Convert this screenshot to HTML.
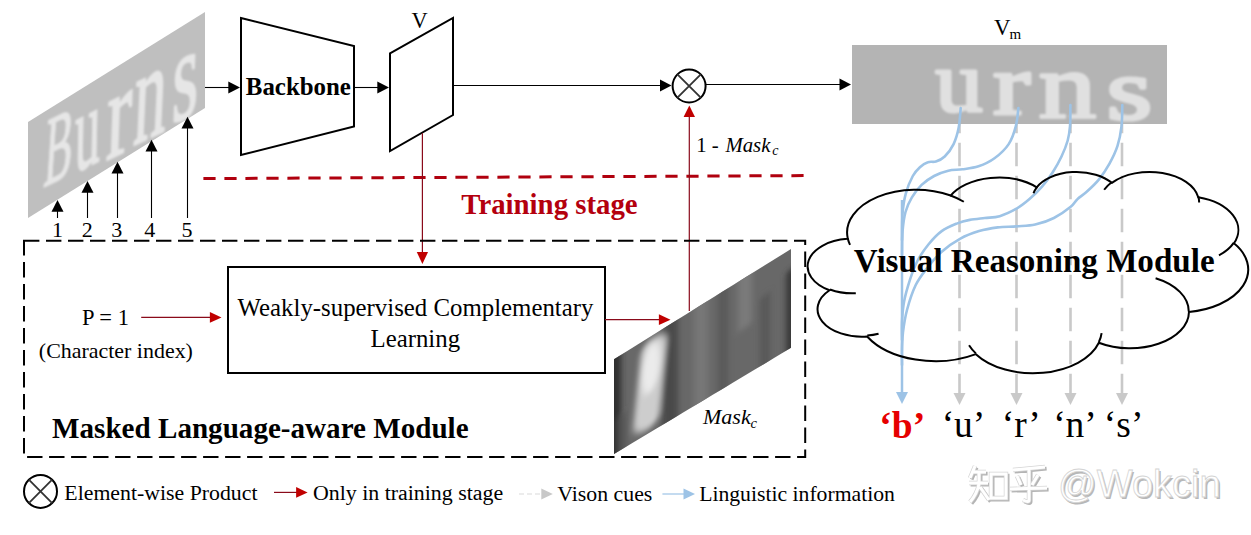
<!DOCTYPE html>
<html><head><meta charset="utf-8"><style>
html,body{margin:0;padding:0;background:#fff;overflow:hidden;}
svg{display:block;font-family:"Liberation Serif", serif;}
</style></head><body>
<svg width="1251" height="535" viewBox="0 0 1251 535">
<rect width="1251" height="535" fill="#fff"/>
<defs>
<filter id="blur1" x="-10%" y="-10%" width="120%" height="120%"><feGaussianBlur stdDeviation="1.0"/></filter>
<filter id="blur15" x="-10%" y="-10%" width="120%" height="120%"><feGaussianBlur stdDeviation="1.3"/></filter>
<filter id="blur3" x="-30%" y="-30%" width="160%" height="160%"><feGaussianBlur stdDeviation="3"/></filter>
<filter id="blur5" x="-50%" y="-50%" width="200%" height="200%"><feGaussianBlur stdDeviation="5"/></filter>
<clipPath id="burnsclip"><polygon points="28,122 205,12 205,108 28,218"/></clipPath>
<clipPath id="maskclip"><polygon points="614,359.3 791,249 791,347.8 614,453.9"/></clipPath>
<clipPath id="vmclip"><rect x="852" y="45" width="315" height="79"/></clipPath>
</defs>
<polygon points="28,122 205,12 205,108 28,218" fill="#bfbfbf"/>
<g clip-path="url(#burnsclip)"><g filter="url(#blur1)" fill="#e6e6e6" stroke="#e6e6e6" stroke-width="1.8" stroke-linejoin="round" font-size="100">
<text transform="matrix(0.4242,-0.2121,-0.0687,1.0080,42.78,187.61)">B</text>
<text transform="matrix(0.5109,-0.2555,-0.0218,1.1329,74.33,173.34)">u</text>
<text transform="matrix(0.7561,-0.3616,-0.0424,1.2521,105.49,160.72)">r</text>
<text transform="matrix(0.6495,-0.3031,-0.0637,1.3583,132.51,145.70)">n</text>
<text transform="matrix(0.6731,-0.3205,-0.0424,1.2946,171.24,124.31)">s</text>
</g></g>
<line x1="57.5" y1="218" x2="57.50" y2="210.70" stroke="#000" stroke-width="1.1"/><polygon points="57.50,200.00 63.50,211.70 51.50,211.70" fill="#000"/>
<text x="51.89" y="237.30" font-size="22" font-weight="normal" font-style="normal" text-anchor="start" fill="#000" >1</text>
<line x1="87.5" y1="218" x2="87.50" y2="191.70" stroke="#000" stroke-width="1.1"/><polygon points="87.50,181.00 93.50,192.70 81.50,192.70" fill="#000"/>
<text x="81.72" y="237.30" font-size="22" font-weight="normal" font-style="normal" text-anchor="start" fill="#000" >2</text>
<line x1="117.5" y1="218" x2="117.50" y2="172.50" stroke="#000" stroke-width="1.1"/><polygon points="117.50,161.80 123.50,173.50 111.50,173.50" fill="#000"/>
<text x="111.30" y="237.30" font-size="22" font-weight="normal" font-style="normal" text-anchor="start" fill="#000" >3</text>
<line x1="151.5" y1="218" x2="151.50" y2="150.40" stroke="#000" stroke-width="1.1"/><polygon points="151.50,139.70 157.50,151.40 145.50,151.40" fill="#000"/>
<text x="144.16" y="237.30" font-size="22" font-weight="normal" font-style="normal" text-anchor="start" fill="#000" >4</text>
<line x1="187.5" y1="218" x2="187.50" y2="127.50" stroke="#000" stroke-width="1.1"/><polygon points="187.50,116.80 193.50,128.50 181.50,128.50" fill="#000"/>
<text x="181.39" y="237.30" font-size="22" font-weight="normal" font-style="normal" text-anchor="start" fill="#000" >5</text>
<line x1="205" y1="87.5" x2="229.30" y2="87.50" stroke="#000" stroke-width="1.1"/><polygon points="240.00,87.50 228.30,93.50 228.30,81.50" fill="#000"/>
<polygon points="241,18 354,46 354,126.5 241,155" fill="none" stroke="#000" stroke-width="2"/>
<text x="245.79" y="94.70" font-size="24.9" font-weight="bold" font-style="normal" text-anchor="start" fill="#000" >Backbone</text>
<line x1="355" y1="87.5" x2="378.30" y2="87.50" stroke="#000" stroke-width="1.1"/><polygon points="389.00,87.50 377.30,93.50 377.30,81.50" fill="#000"/>
<polygon points="390,53.4 453,18 453,115 390,151" fill="none" stroke="#000" stroke-width="2"/>
<text x="411.45" y="28.30" font-size="22.4" font-weight="normal" font-style="normal" text-anchor="start" fill="#000" >V</text>
<line x1="453" y1="85.5" x2="661.00" y2="85.50" stroke="#000" stroke-width="1.1"/><polygon points="671.50,85.50 660.00,91.50 660.00,79.50" fill="#000"/>
<circle cx="689.1" cy="86" r="16.5" fill="#fff" stroke="#000" stroke-width="2"/>
<path d="M677.4300000000001 74.33L700.77 97.67M677.4300000000001 97.67L700.77 74.33" stroke="#333" stroke-width="1.8"/>
<line x1="706" y1="84.5" x2="840.50" y2="84.50" stroke="#000" stroke-width="1.1"/><polygon points="851.00,84.50 839.50,90.50 839.50,78.50" fill="#000"/>
<line x1="959.5" y1="109.7" x2="959.50" y2="394.00" stroke="#c9c9c9" stroke-width="2.6" stroke-dasharray="23.5 9.5"/><polygon points="959.50,405.00 953.50,393.00 965.50,393.00" fill="#c9c9c9"/>
<line x1="1016.5" y1="109.7" x2="1016.50" y2="394.00" stroke="#c9c9c9" stroke-width="2.6" stroke-dasharray="23.5 9.5"/><polygon points="1016.50,405.00 1010.50,393.00 1022.50,393.00" fill="#c9c9c9"/>
<line x1="1070.5" y1="109.7" x2="1070.50" y2="394.00" stroke="#c9c9c9" stroke-width="2.6" stroke-dasharray="23.5 9.5"/><polygon points="1070.50,405.00 1064.50,393.00 1076.50,393.00" fill="#c9c9c9"/>
<line x1="1122" y1="109.7" x2="1122.00" y2="394.00" stroke="#c9c9c9" stroke-width="2.6" stroke-dasharray="23.5 9.5"/><polygon points="1122.00,405.00 1116.00,393.00 1128.00,393.00" fill="#c9c9c9"/>
<rect x="852" y="45" width="315" height="79" fill="#b4b4b4"/>
<g clip-path="url(#vmclip)"><g filter="url(#blur15)" fill="#e0e0e0" stroke="#e0e0e0" stroke-width="3.2" stroke-linejoin="round">
<text font-size="86.83" transform="translate(935.15,111.45) scale(1.094,1)">u</text>
<text font-size="86.16" transform="translate(993.06,113.60) scale(1.301,1)">r</text>
<text font-size="93.17" transform="translate(1038.77,117.50) scale(1.232,1)">n</text>
<text font-size="85.87" transform="translate(1106.58,119.26) scale(1.370,1)">s</text>
</g></g>
<text x="993.94" y="34.50" font-size="22.9" font-weight="normal" font-style="normal" text-anchor="start" fill="#000" >V</text>
<text x="1009.59" y="38.80" font-size="15" font-weight="normal" font-style="normal" text-anchor="start" fill="#000" >m</text>
<line x1="203.4" y1="178.6" x2="804" y2="175.6" stroke="#b0000e" stroke-width="3" stroke-dasharray="12.2 8.8"/>
<text x="461.35" y="213.60" font-size="28.8" font-weight="bold" font-style="normal" text-anchor="start" fill="#b4000e" >Training stage</text>
<line x1="422.4" y1="133.2" x2="422.40" y2="253.00" stroke="#8a0a1a" stroke-width="1.2"/><polygon points="422.40,264.00 416.75,252.00 428.05,252.00" fill="#c00000"/>
<line x1="689.3" y1="311" x2="689.30" y2="115.90" stroke="#8a0a1a" stroke-width="1.2"/><polygon points="689.30,105.40 695.00,116.90 683.60,116.90" fill="#c00000"/>
<text x="696.18" y="151.60" font-size="20.75" font-weight="normal" font-style="normal" text-anchor="start" fill="#000" >1 - </text>
<text x="725.44" y="151.60" font-size="20.75" font-weight="normal" font-style="italic" text-anchor="start" fill="#000" >Mask</text>
<text x="772.27" y="155.40" font-size="14" font-weight="normal" font-style="italic" text-anchor="start" fill="#000" >c</text>
<rect x="24" y="240.8" width="781.2" height="216.1" fill="none" stroke="#000" stroke-width="2" stroke-dasharray="15.4 6.6"/>
<rect x="228" y="267" width="377" height="106" fill="#fff" stroke="#000" stroke-width="2"/>
<text x="237.58" y="315.80" font-size="24.83" font-weight="normal" font-style="normal" text-anchor="start" fill="#000" >Weakly-supervised Complementary</text>
<text x="370.48" y="347.10" font-size="24.83" font-weight="normal" font-style="normal" text-anchor="start" fill="#000" >Learning</text>
<text x="82.05" y="324.90" font-size="22.5" font-weight="normal" font-style="normal" text-anchor="start" fill="#000" >P = 1</text>
<text x="38.84" y="358.40" font-size="21.94" font-weight="normal" font-style="normal" text-anchor="start" fill="#000" >(Character index)</text>
<line x1="141.2" y1="317.4" x2="210.90" y2="317.40" stroke="#8a0a1a" stroke-width="1.2"/><polygon points="221.50,317.40 209.90,322.80 209.90,312.00" fill="#c00000"/>
<line x1="605" y1="319.7" x2="659.90" y2="319.70" stroke="#8a0a1a" stroke-width="1.2"/><polygon points="670.50,319.70 658.90,325.10 658.90,314.30" fill="#c00000"/>
<polygon points="614,359.3 791,249 791,347.8 614,453.9" fill="#686868"/>
<g clip-path="url(#maskclip)"><g transform="translate(614,359.3) matrix(1,-0.623,0,1,0,0)">
<g filter="url(#blur3)">
<rect x="-10" y="-10" width="17" height="120" fill="#2e2e2e"/>
<rect x="4" y="60" width="8" height="50" fill="#555"/>
<rect x="48" y="-10" width="16" height="120" fill="#484848"/>
<rect x="80" y="-10" width="14" height="120" fill="#777"/>
<rect x="104" y="-10" width="10" height="120" fill="#5a5a5a"/>
<rect x="124" y="-10" width="14" height="60" fill="#7a7a7a"/>
<rect x="146" y="30" width="10" height="80" fill="#585858"/>
<rect x="172" y="20" width="14" height="90" fill="#383838"/>
<rect x="23" y="3" width="26" height="88" rx="11" fill="#cdcdcd" transform="rotate(6 36 47)"/>
<ellipse cx="37" cy="32" rx="9" ry="24" fill="#ebebeb" transform="rotate(6 37 32)"/>
</g></g></g>
<text x="703.06" y="423.50" font-size="22" font-weight="normal" font-style="italic" text-anchor="start" fill="#000" >Mask</text>
<text x="750.45" y="427.50" font-size="14.5" font-weight="normal" font-style="italic" text-anchor="start" fill="#000" >c</text>
<text x="52.10" y="438.00" font-size="29.1" font-weight="bold" font-style="normal" text-anchor="start" fill="#000" >Masked Language-aware Module</text>
<path d="M960.7 108.0 C960.4 111.3 959.8 122.1 958.6 128.1 C957.4 134.1 955.9 139.4 953.6 144.1 C951.3 148.8 947.7 153.6 944.7 156.5 C941.8 159.4 938.7 160.6 935.9 161.5 C933.1 162.4 930.6 161.2 927.9 162.2 C925.2 163.1 922.4 164.9 919.9 167.2 C917.4 169.5 915.2 171.6 912.8 176.0 C910.4 180.4 907.4 187.5 905.7 193.8 C904.0 200.1 903.1 206.3 902.5 214.0 C901.9 221.7 902.1 235.7 902.0 240.0" fill="none" stroke="#9dc3e6" stroke-width="2.6" stroke-linecap="round"/>
<path d="M1018.4 108.0 C1018.0 111.0 1017.4 120.3 1015.8 126.3 C1014.2 132.3 1012.2 138.8 1008.7 144.1 C1005.2 149.4 999.5 154.6 994.5 158.3 C989.5 162.0 983.8 164.5 978.5 166.3 C973.2 168.1 967.5 168.6 962.5 169.3 C957.5 170.0 953.0 169.6 948.3 170.7 C943.6 171.8 938.5 173.6 934.1 176.0 C929.7 178.4 925.3 181.3 921.6 184.9 C917.9 188.5 914.6 192.9 911.9 197.4 C909.2 201.9 907.1 206.2 905.5 212.0 C903.9 217.8 903.1 224.8 902.5 232.0 C901.9 239.2 902.1 251.2 902.0 255.0" fill="none" stroke="#9dc3e6" stroke-width="2.6" stroke-linecap="round"/>
<path d="M1070.4 105.0 C1070.3 108.5 1070.5 120.4 1070.0 126.3 C1069.5 132.2 1069.1 135.5 1067.7 140.5 C1066.3 145.5 1064.0 151.2 1061.5 156.5 C1059.0 161.8 1055.8 167.5 1052.6 172.5 C1049.3 177.5 1045.8 182.3 1042.0 186.7 C1038.2 191.1 1033.8 195.4 1029.5 199.1 C1025.2 202.8 1021.5 205.8 1016.5 208.7 C1011.5 211.5 1005.0 214.6 999.7 216.2 C994.4 217.8 989.7 217.4 984.7 218.0 C979.7 218.6 974.5 219.0 969.8 219.9 C965.1 220.8 961.4 221.7 956.7 223.6 C952.0 225.5 946.4 227.7 941.7 231.1 C937.0 234.5 932.7 239.2 928.6 244.2 C924.5 249.2 920.5 255.1 917.4 261.0 C914.3 266.9 912.2 272.9 910.0 279.7 C907.8 286.5 905.3 294.9 904.0 302.0 C902.7 309.1 902.3 315.7 902.0 322.0 C901.7 328.3 902.0 337.0 902.0 340.0" fill="none" stroke="#9dc3e6" stroke-width="2.6" stroke-linecap="round"/>
<path d="M1122.3 105.0 C1122.2 108.5 1122.3 119.5 1121.5 126.3 C1120.7 133.1 1119.5 139.7 1117.5 145.9 C1115.5 152.1 1112.6 158.0 1109.5 163.6 C1106.4 169.2 1102.6 174.9 1098.8 179.6 C1095.0 184.3 1090.0 188.8 1086.4 192.0 C1082.9 195.2 1080.1 196.6 1077.5 199.1 C1074.9 201.6 1074.6 203.7 1070.7 206.8 C1066.8 210.0 1059.8 215.0 1053.9 218.0 C1048.0 221.0 1041.4 223.2 1035.2 224.6 C1029.0 226.0 1022.7 225.9 1016.5 226.4 C1010.3 226.9 1004.0 226.6 997.8 227.4 C991.6 228.2 985.3 229.2 979.1 231.1 C972.9 233.0 966.6 235.2 960.4 238.6 C954.2 242.0 947.3 246.7 941.7 251.7 C936.1 256.7 931.1 262.9 926.8 268.5 C922.4 274.1 918.9 278.4 915.6 285.3 C912.3 292.2 909.1 302.2 907.0 310.0 C904.9 317.8 903.8 325.7 903.0 332.0 C902.2 338.3 902.2 342.5 902.0 348.0 C901.8 353.5 902.0 362.2 902.0 365.0" fill="none" stroke="#9dc3e6" stroke-width="2.6" stroke-linecap="round"/>
<line x1="902" y1="200" x2="902.00" y2="393.00" stroke="#9dc3e6" stroke-width="2.5"/><polygon points="902.00,404.00 896.00,392.00 908.00,392.00" fill="#9dc3e6"/>
<path d="M847.72 238.23A68.78 42.80 0 0 1 950.64 195.53A54.32 33.85 0 0 1 1036.72 187.28A44.46 27.69 0 0 1 1111.85 182.85A49.47 30.72 0 0 1 1198.28 197.27A54.32 33.87 0 0 1 1233.93 243.30A69.00 42.94 0 0 1 1188.97 311.97A58.92 36.64 0 0 1 1098.85 342.75A68.77 42.92 0 0 1 975.86 354.17A78.63 49.10 0 0 1 867.12 336.50A44.41 27.56 0 0 1 829.53 290.29A44.25 27.69 0 0 1 847.35 238.85Z" fill="none" stroke="#000" stroke-width="2"/>
<path d="M855.80 293.22A44.25 27.69 0 0 1 830.00 289.50M878.56 333.84A44.41 27.56 0 0 1 867.27 335.62M975.83 353.36A68.77 42.92 0 0 1 969.03 345.25M1101.61 333.15A68.77 42.92 0 0 1 1098.89 342.04M1155.61 278.21A58.92 36.64 0 0 1 1188.73 311.44M1233.72 242.81A54.32 33.87 0 0 1 1218.97 255.27M1198.34 196.57A49.47 30.72 0 0 1 1199.12 202.46M1104.16 189.71A49.47 30.72 0 0 1 1111.72 182.20M1033.51 193.28A44.46 27.69 0 0 1 1037.17 186.81M950.59 195.48A68.78 42.80 0 0 1 963.83 201.76M850.03 244.84A68.78 42.80 0 0 1 847.72 238.23" fill="none" stroke="#000" stroke-width="2"/>
<text x="853.73" y="271.90" font-size="33.08" font-weight="bold" font-style="normal" text-anchor="start" fill="#000" >Visual Reasoning Module</text>
<text x="879.36" y="437.80" font-size="37.5" font-weight="bold" font-style="normal" text-anchor="start" fill="#e60000" >‘b’</text>
<text x="941.64" y="437.00" font-size="37.5" font-weight="normal" font-style="normal" text-anchor="start" fill="#000" >‘u’</text>
<text x="1001.87" y="437.00" font-size="37.5" font-weight="normal" font-style="normal" text-anchor="start" fill="#000" >‘r’</text>
<text x="1053.14" y="437.00" font-size="37.5" font-weight="normal" font-style="normal" text-anchor="start" fill="#000" >‘n’</text>
<text x="1103.82" y="437.00" font-size="37.5" font-weight="normal" font-style="normal" text-anchor="start" fill="#000" >‘s’</text>
<circle cx="40.5" cy="491.4" r="16.5" fill="none" stroke="#000" stroke-width="2"/>
<path d="M28.83 479.72999999999996L52.17 503.07M28.83 503.07L52.17 479.72999999999996" stroke="#333" stroke-width="1.8"/>
<text x="64.37" y="499.60" font-size="21.8" font-weight="normal" font-style="normal" text-anchor="start" fill="#000" >Element-wise Product</text>
<line x1="274" y1="492.4" x2="297.10" y2="492.40" stroke="#8a0a1a" stroke-width="1.2"/><polygon points="307.60,492.40 296.10,497.80 296.10,487.00" fill="#c00000"/>
<text x="312.90" y="499.60" font-size="21.9" font-weight="normal" font-style="normal" text-anchor="start" fill="#000" >Only in training stage</text>
<line x1="519" y1="494" x2="542.30" y2="494.00" stroke="#d9d9d9" stroke-width="1.2" stroke-dasharray="5 3"/><polygon points="552.80,494.00 541.30,499.40 541.30,488.60" fill="#c8c8c8"/>
<text x="557.36" y="501.00" font-size="21.8" font-weight="normal" font-style="normal" text-anchor="start" fill="#000" >Vison cues</text>
<line x1="662.4" y1="494" x2="684.50" y2="494.00" stroke="#9dc3e6" stroke-width="1.2"/><polygon points="695.00,494.00 683.50,499.40 683.50,488.60" fill="#9dc3e6"/>
<text x="699.17" y="501.00" font-size="21.7" font-weight="normal" font-style="normal" text-anchor="start" fill="#000" >Linguistic information</text>
<path d="M975 466 L970 478 M972 472 L986 472 M969 483 L988 483 M979 472 L979 484 Q977 494 970 502 M980 487 L989 500 M991 474 L1006 474 L1006 498 L991 498 Z M1013 470 L1045 467 M1017 476 L1021 485 M1038 475 L1032 485 M1010 489 L1047 488 M1029 470 L1029 500 Q1029 503 1023 500" fill="none" stroke="#b4b4b4" stroke-width="3.8" transform="translate(1.6,1.6)"/>
<path d="M975 466 L970 478 M972 472 L986 472 M969 483 L988 483 M979 472 L979 484 Q977 494 970 502 M980 487 L989 500 M991 474 L1006 474 L1006 498 L991 498 Z M1013 470 L1045 467 M1017 476 L1021 485 M1038 475 L1032 485 M1010 489 L1047 488 M1029 470 L1029 500 Q1029 503 1023 500" fill="none" stroke="#d4d4d4" stroke-width="4.4"/>
<path d="M975 466 L970 478 M972 472 L986 472 M969 483 L988 483 M979 472 L979 484 Q977 494 970 502 M980 487 L989 500 M991 474 L1006 474 L1006 498 L991 498 Z M1013 470 L1045 467 M1017 476 L1021 485 M1038 475 L1032 485 M1010 489 L1047 488 M1029 470 L1029 500 Q1029 503 1023 500" fill="none" stroke="#fff" stroke-width="3"/>
<text x="1059.61" y="498.60" font-size="38.07" font-weight="normal" font-style="normal" text-anchor="start" fill="#b8b8b8" font-family="Liberation Sans, sans-serif">@Wokcin</text>
<text x="1058.01" y="497.00" font-size="38.07" font-weight="normal" font-style="normal" text-anchor="start" fill="#fff" font-family="Liberation Sans, sans-serif" stroke="#d4d4d4" stroke-width="0.8">@Wokcin</text>
</svg></body></html>
